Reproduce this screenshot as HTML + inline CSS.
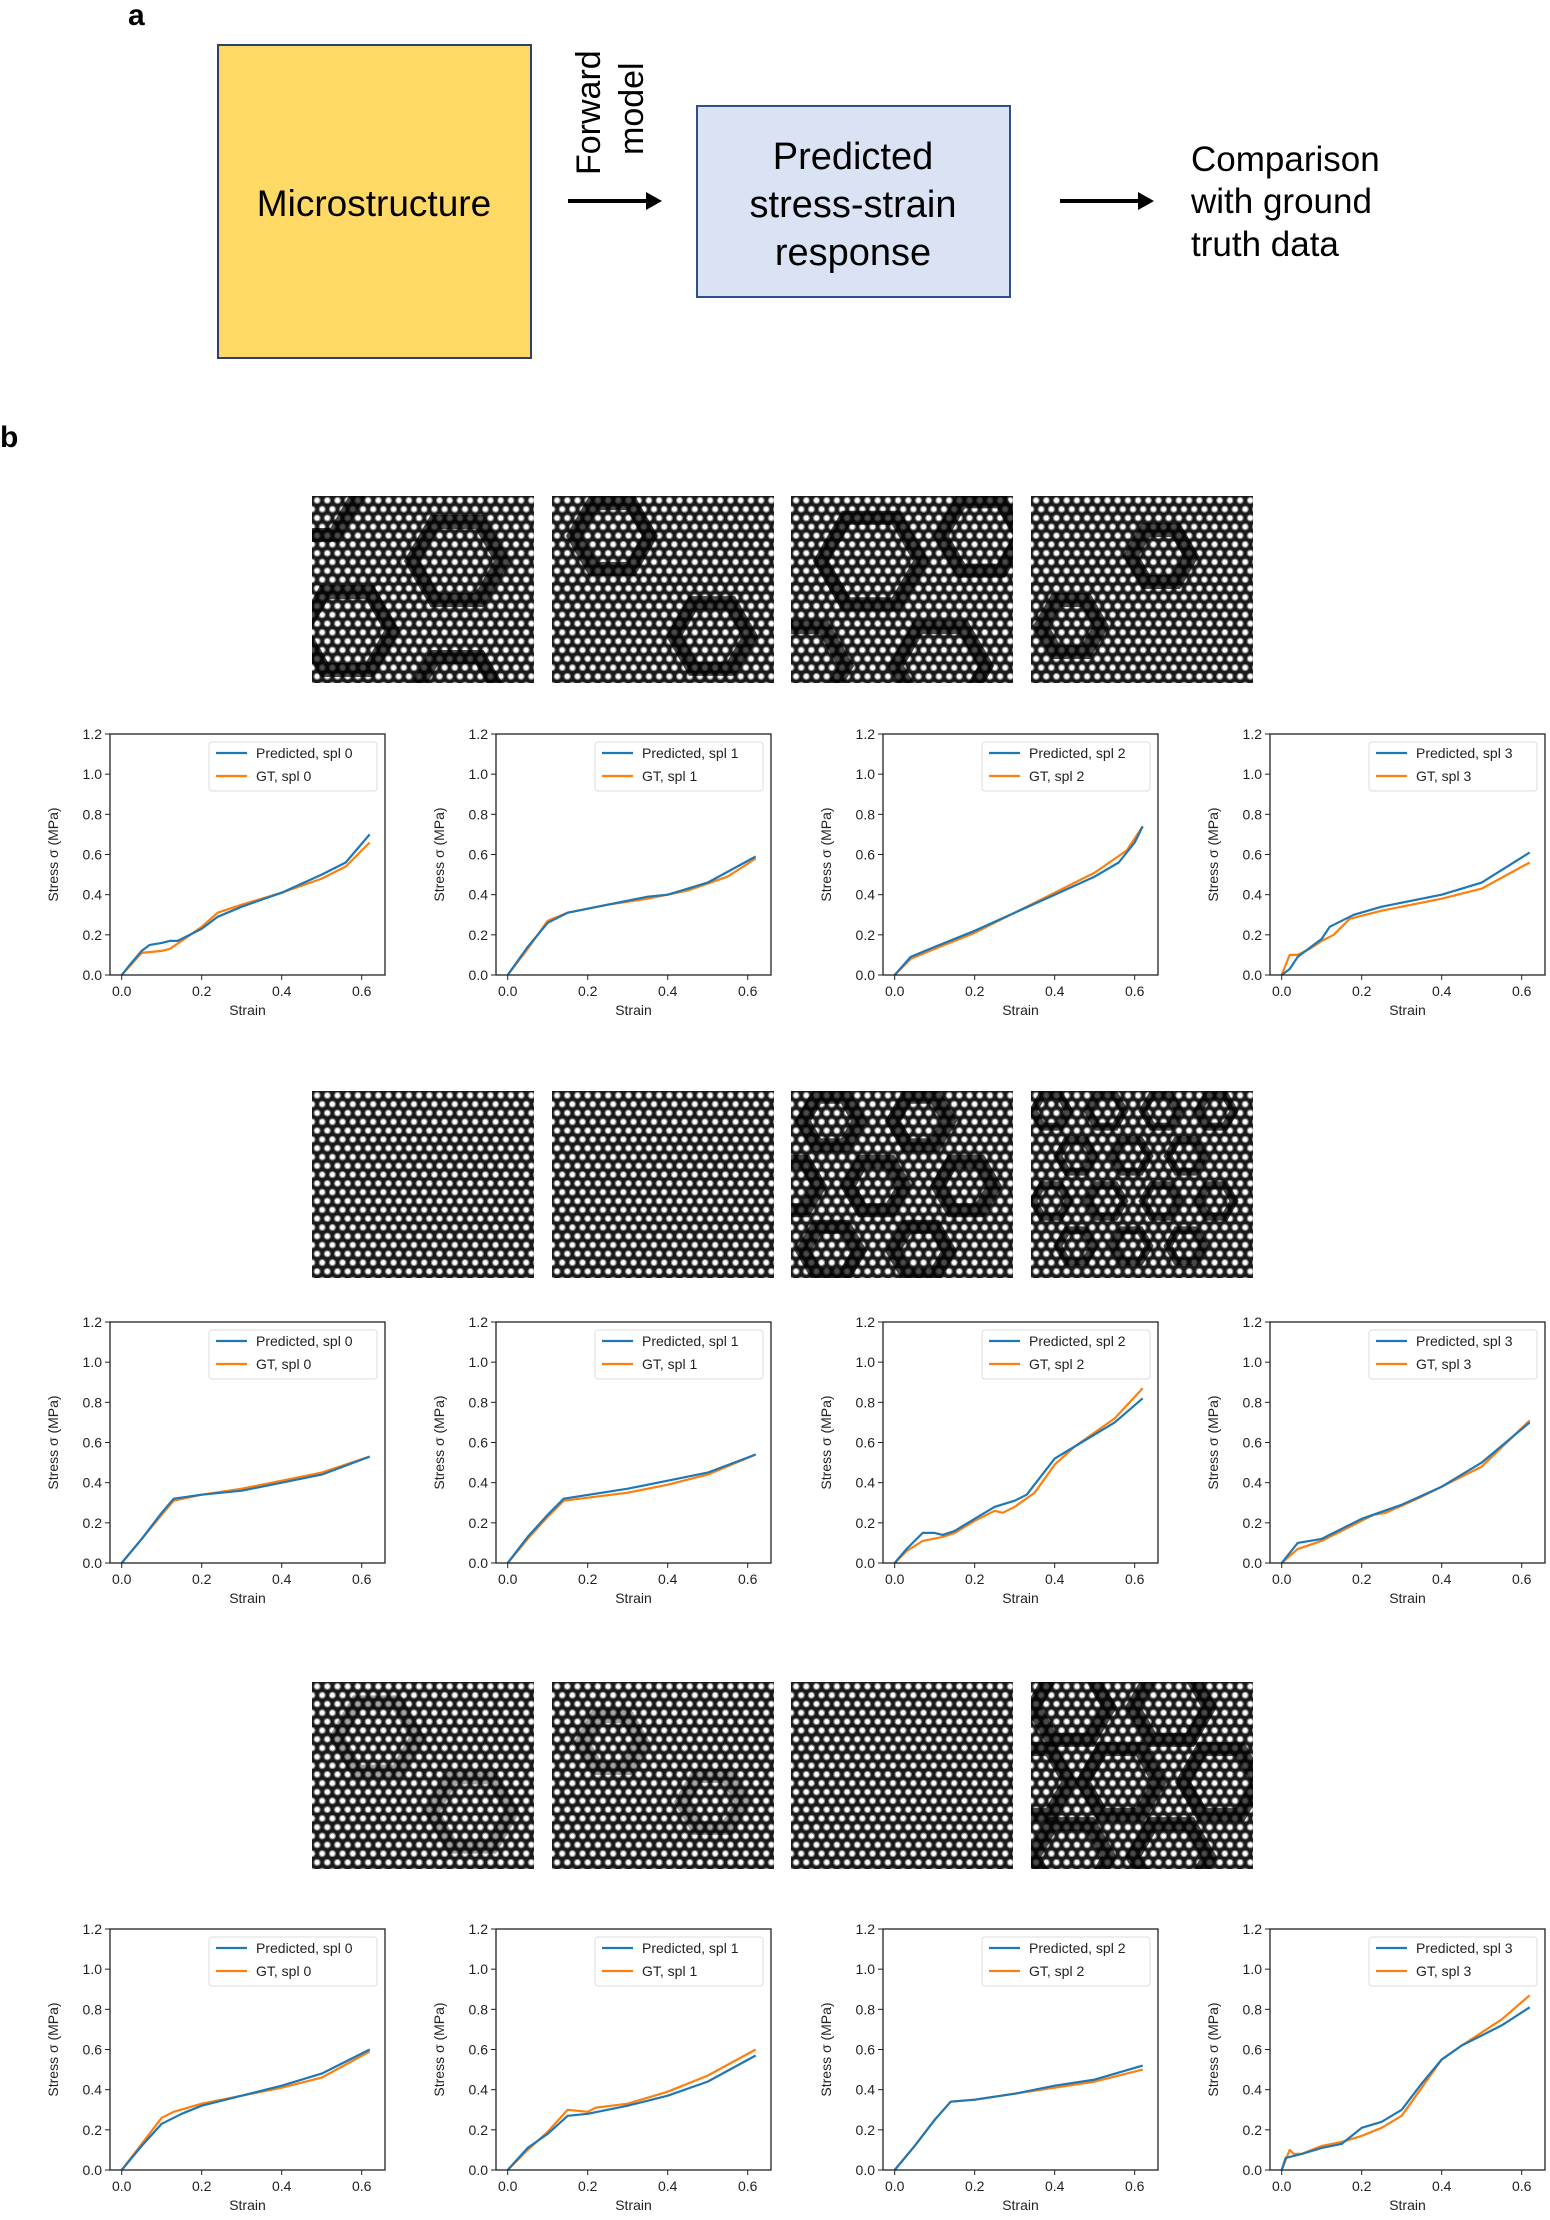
<!DOCTYPE html>
<html><head><meta charset="utf-8">
<style>
html,body{margin:0;padding:0;background:#fff;}
body{width:1550px;height:2215px;position:relative;overflow:hidden;font-family:"Liberation Sans","DejaVu Sans",sans-serif;}
</style></head>
<body>
<svg id="s" width="1550" height="2215" xmlns="http://www.w3.org/2000/svg" font-family="Liberation Sans, DejaVu Sans, sans-serif">
<defs>
<pattern id="hx" width="10.2" height="17.6" patternUnits="userSpaceOnUse">
<rect width="10.2" height="17.6" fill="#1a1a1a"/>
<circle cx="5.1" cy="4.4" r="3.6" fill="#888"/><circle cx="5.1" cy="4.4" r="2.4" fill="#fff"/>
<circle cx="0" cy="13.2" r="3.6" fill="#888"/><circle cx="0" cy="13.2" r="2.4" fill="#fff"/>
<circle cx="10.2" cy="13.2" r="3.6" fill="#888"/><circle cx="10.2" cy="13.2" r="2.4" fill="#fff"/>
</pattern>
</defs>
<text x="128" y="25" font-size="30" font-weight="bold">a</text>
<rect x="218" y="45" width="313" height="313" fill="#FFD966" stroke="#2F3F6F" stroke-width="2"/>
<text x="374" y="216" font-size="37" text-anchor="middle">Microstructure</text>
<text transform="translate(600,175) rotate(-90)" font-size="34">Forward</text>
<text transform="translate(643,155) rotate(-90)" font-size="34">model</text>
<line x1="568" y1="201" x2="648" y2="201" stroke="#000" stroke-width="4"/>
<polygon points="646,192 662,201 646,210" fill="#000"/>
<rect x="697" y="106" width="313" height="191" fill="#DAE3F3" stroke="#2F4F8F" stroke-width="2"/>
<text x="853" y="169" font-size="38" text-anchor="middle">Predicted</text>
<text x="853" y="217" font-size="38" text-anchor="middle">stress-strain</text>
<text x="853" y="265" font-size="38" text-anchor="middle">response</text>
<line x1="1060" y1="201" x2="1140" y2="201" stroke="#000" stroke-width="4"/>
<polygon points="1138,192 1154,201 1138,210" fill="#000"/>
<text x="1191" y="171" font-size="35">Comparison</text>
<text x="1191" y="213" font-size="35">with ground</text>
<text x="1191" y="256" font-size="35">truth data</text>
<text x="0" y="447" font-size="30" font-weight="bold">b</text>
<g id="g"></g>
</svg>
<script>
var g=document.getElementById('g'),NS='http://www.w3.org/2000/svg';
function el(t,a,p,txt){var e=document.createElementNS(NS,t);for(var k in a)e.setAttribute(k,a[k]);if(txt!=null)e.textContent=txt;(p||g).appendChild(e);return e;}
var tx=[312,552,791,1031],ty=[496,1091,1682];
var hexes=[[[[0,0,45],[145,65,45],[35,135,45],[145,200,45]],[[60,40,38],[160,140,38]],[[80,65,50],[10,170,45],[150,170,45],[190,40,40]],[[130,60,30],[40,130,30]]],
[[],[],[[40,30,28],[130,30,28],[85,95,28],[0,95,28],[175,95,28],[40,160,28],[130,160,28]],[[20,20,18],[75,20,18],[130,20,18],[185,20,18],[45,65,18],[100,65,18],[155,65,18],[20,110,18],[75,110,18],[130,110,18],[185,110,18],[45,155,18],[100,155,18],[155,155,18]]],
[[[65,55,40],[160,130,40]],[[60,60,30],[160,120,30]],[],[[40,25,38],[140,25,38],[90,100,38],[0,100,38],[190,100,38],[40,175,38],[140,175,38]]]];
for(var r=0;r<3;r++)for(var c=0;c<4;c++){
 var gg=el('g',{transform:'translate('+tx[c]+','+ty[r]+')'});
 var cp=el('clipPath',{id:'cp'+r+c},gg);el('rect',{width:222,height:187},cp);
 var inner=el('g',{'clip-path':'url(#cp'+r+c+')'},gg);
 el('rect',{width:222,height:187,fill:'url(#hx)'},inner);
 var op=(r==2&&c<2)?0.35:0.7;
 hexes[r][c].forEach(function(h){var pts=[];for(var i=0;i<6;i++){var a=Math.PI/3*i;pts.push((h[0]+h[2]*Math.cos(a))+','+(h[1]+h[2]*Math.sin(a)));}
  el('polygon',{points:pts.join(' '),fill:'none',stroke:'#000','stroke-width':h[2]>25?14:8,'stroke-opacity':op},inner);});
}
var D=[
[[[0,0,.02,.05,.05,.12,.07,.15,.1,.16,.12,.17,.14,.17,.2,.23,.24,.29,.3,.34,.4,.41,.5,.5,.56,.56,.62,.70],[0,0,.05,.11,.1,.12,.12,.13,.15,.17,.2,.24,.24,.31,.3,.35,.4,.41,.5,.48,.56,.54,.62,.66]],
 [[0,0,.05,.14,.1,.26,.15,.31,.25,.35,.35,.39,.4,.40,.5,.46,.62,.59],[0,0,.05,.13,.1,.27,.15,.31,.25,.35,.35,.38,.45,.42,.55,.49,.62,.58]],
 [[0,0,.04,.09,.1,.14,.2,.22,.3,.31,.4,.40,.5,.49,.56,.56,.6,.66,.62,.74],[0,0,.04,.08,.1,.13,.2,.21,.3,.31,.4,.41,.5,.51,.58,.62,.62,.74]],
 [[0,0,.02,.03,.04,.09,.06,.12,.1,.18,.12,.24,.18,.30,.25,.34,.4,.40,.5,.46,.62,.61],[0,0,.02,.1,.04,.1,.07,.13,.1,.17,.13,.2,.17,.28,.25,.32,.4,.38,.5,.43,.62,.56]]],
[[[0,0,.05,.12,.1,.25,.13,.32,.2,.34,.3,.36,.4,.40,.5,.44,.62,.53],[0,0,.05,.12,.1,.24,.13,.31,.2,.34,.3,.37,.4,.41,.5,.45,.62,.53]],
 [[0,0,.05,.13,.1,.24,.14,.32,.3,.37,.4,.41,.5,.45,.62,.54],[0,0,.05,.12,.1,.23,.14,.31,.3,.35,.4,.39,.5,.44,.62,.54]],
 [[0,0,.03,.07,.07,.15,.1,.15,.12,.14,.15,.16,.2,.22,.25,.28,.3,.31,.33,.34,.4,.52,.45,.58,.55,.70,.62,.82],[0,0,.03,.06,.07,.11,.12,.13,.15,.15,.2,.21,.25,.26,.27,.25,.3,.28,.35,.35,.4,.49,.45,.58,.55,.72,.62,.87]],
 [[0,0,.04,.10,.07,.11,.1,.12,.2,.22,.3,.29,.4,.38,.5,.50,.62,.70],[0,0,.04,.07,.1,.11,.2,.21,.23,.24,.26,.25,.35,.33,.5,.48,.62,.71]]],
[[[0,0,.05,.12,.1,.23,.15,.28,.2,.32,.3,.37,.4,.42,.5,.48,.62,.60],[0,0,.05,.13,.1,.26,.13,.29,.2,.33,.3,.37,.4,.41,.5,.46,.62,.59]],
 [[0,0,.05,.11,.1,.18,.15,.27,.2,.28,.3,.32,.4,.37,.5,.44,.62,.57],[0,0,.05,.10,.1,.19,.15,.30,.2,.29,.22,.31,.3,.33,.4,.39,.5,.47,.62,.60]],
 [[0,0,.05,.12,.1,.25,.14,.34,.2,.35,.3,.38,.4,.42,.5,.45,.62,.52],[0,0,.05,.12,.1,.25,.14,.34,.2,.35,.3,.38,.4,.41,.5,.44,.62,.50]],
 [[0,0,.01,.06,.03,.07,.05,.08,.1,.11,.15,.13,.2,.21,.25,.24,.3,.30,.35,.43,.4,.55,.45,.62,.55,.72,.62,.81],[0,0,.02,.1,.03,.08,.05,.08,.1,.12,.15,.14,.2,.17,.25,.21,.3,.27,.35,.41,.4,.55,.45,.62,.55,.75,.62,.87]]]];
var ax=[110,496,883,1270],ay=[[734,975],[1322,1563],[1929,2170]];
for(var r=0;r<3;r++)for(var c=0;c<4;c++){
 var L=ax[c],R=L+275,T=ay[r][0],B=ay[r][1],x0=L+11.7;
 var X=function(v){return x0+v*400;},Y=function(v){return B-v/1.2*(B-T);};
 [1,0].forEach(function(k){var d=D[r][c][k],p=[];for(var i=0;i<d.length;i+=2)p.push(X(d[i]).toFixed(1)+','+Y(d[i+1]).toFixed(1));
  el('polyline',{points:p.join(' '),fill:'none',stroke:k?'#ff7f0e':'#1f77b4','stroke-width':2.2,'stroke-linejoin':'round'});});
 el('rect',{x:L,y:T,width:275,height:B-T,fill:'none',stroke:'#222','stroke-width':1.3});
 for(var i=0;i<=6;i++){var v=i*0.2,yy=Y(v);el('line',{x1:L-5,y1:yy,x2:L,y2:yy,stroke:'#222'});el('text',{x:L-8,y:yy+5,'font-size':14,'text-anchor':'end',fill:'#222'},null,v.toFixed(1));}
 for(var i=0;i<=3;i++){var xx=X(i*0.2);el('line',{x1:xx,y1:B,x2:xx,y2:B+5,stroke:'#222'});el('text',{x:xx,y:B+21,'font-size':14,'text-anchor':'middle',fill:'#222'},null,(i*0.2).toFixed(1));}
 el('text',{x:(L+R)/2,y:B+40,'font-size':14,'text-anchor':'middle',fill:'#222'},null,'Strain');
 el('text',{transform:'translate('+(L-52)+','+((T+B)/2)+') rotate(-90)','font-size':14,'text-anchor':'middle',fill:'#222'},null,'Stress σ (MPa)');
 el('rect',{x:L+99,y:T+8,width:168,height:49,fill:'#fff','fill-opacity':0.85,stroke:'#ddd',rx:3});
 el('line',{x1:L+106,y1:T+19,x2:L+137,y2:T+19,stroke:'#1f77b4','stroke-width':2.2});
 el('line',{x1:L+106,y1:T+42,x2:L+137,y2:T+42,stroke:'#ff7f0e','stroke-width':2.2});
 el('text',{x:L+146,y:T+24,'font-size':14,fill:'#222'},null,'Predicted, spl '+c);
 el('text',{x:L+146,y:T+47,'font-size':14,fill:'#222'},null,'GT, spl '+c);
}
</script>
</body></html>
